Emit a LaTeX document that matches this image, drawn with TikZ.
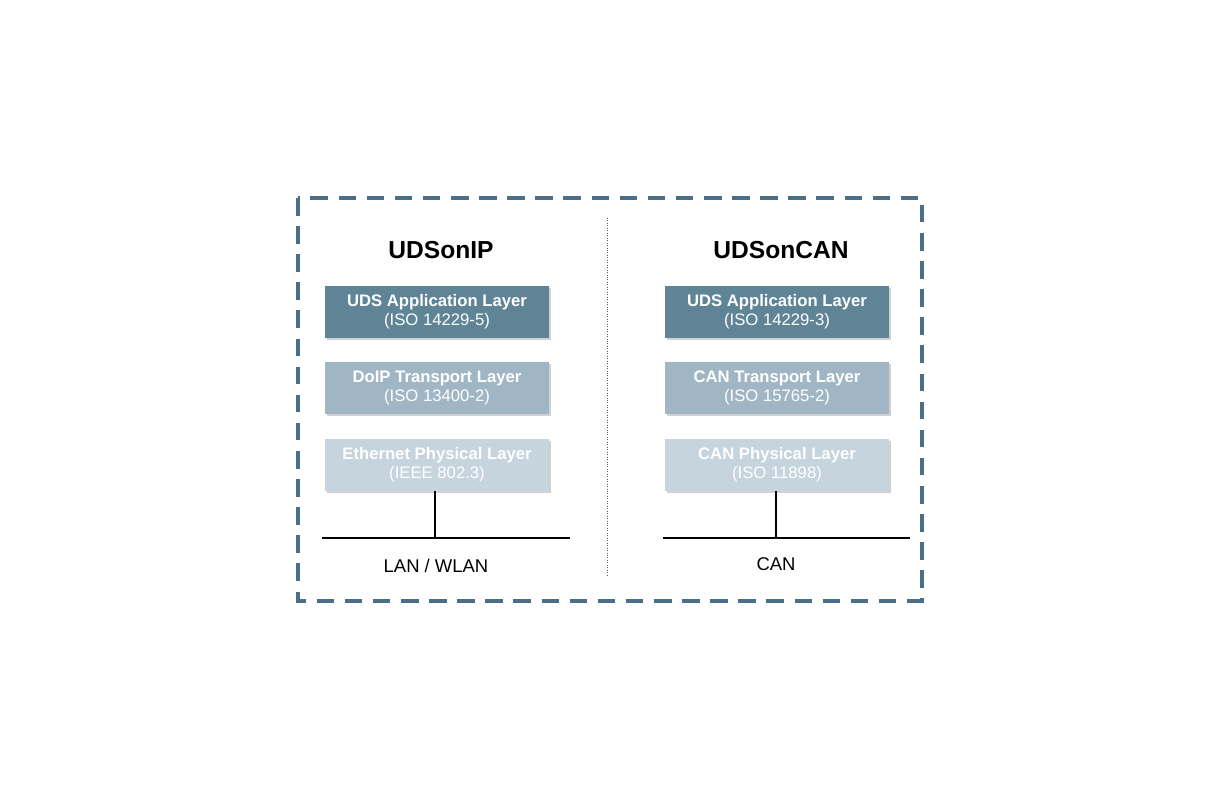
\documentclass[tikz,border=0pt]{standalone}
\usepackage{fontspec}
\setmainfont{Liberation Sans}
\begin{document}
\begin{tikzpicture}[x=0.02cm,y=-0.02cm,
 box/.style={draw=none,minimum width=4.48cm,minimum height=1.04cm,text=white,font=\fontsize{9.5}{11}\selectfont\bfseries,align=center,inner sep=0pt, preaction={fill=black!18,transform canvas={shift={(1.2pt,-1.2pt)}}}},
 l1/.style={box,fill=c1},l2/.style={box,fill=c2},l3/.style={box,fill=c3},
 title/.style={font=\fontsize{14}{16}\selectfont\bfseries},
 lab/.style={font=\fontsize{10.5}{12}\selectfont},
 bus/.style={line width=1.2pt}]
\definecolor{c1}{HTML}{5F8496}\definecolor{c2}{HTML}{A1B6C4}\definecolor{c3}{HTML}{C6D4DD}
\definecolor{fr}{HTML}{4A6F87}
\useasboundingbox (0,0) rectangle (1218,800);
\draw[fr,line width=2.2pt,dash pattern=on 10pt off 6pt] (298,198) rectangle (922,601);
\draw[densely dotted,gray!70!black] (607,218) -- (607,575);
\node[title] (t1) at (441,250) {UDSonIP};
\node[title] (t2) at (781,250) {UDSonCAN};
\node[l1] (a1) at (437,312) {UDS Application Layer\\\mdseries(ISO 14229-5)};
\node[l2] (b1) at (437,388) {DoIP Transport Layer\\\mdseries(ISO 13400-2)};
\node[l3] (c1n) at (437,465) {Ethernet Physical Layer\\\mdseries(IEEE 802.3)};
\node[l1] (a2) at (777,312) {UDS Application Layer\\\mdseries(ISO 14229-3)};
\node[l2] (b2) at (777,388) {CAN Transport Layer\\\mdseries(ISO 15765-2)};
\node[l3] (c2n) at (777,465) {CAN Physical Layer\\\mdseries(ISO 11898)};
\coordinate (p1l) at (322,538);\coordinate (p1r) at (570,538);
\coordinate (p2l) at (663,538);\coordinate (p2r) at (910,538);
\draw[bus] (p1l) -- (p1r);\draw[bus] (p2l) -- (p2r);
\draw[bus] (c1n.south -| 435,0) -- (435,538);
\draw[bus] (c2n.south -| 776,0) -- (776,538);
\node[lab] (n1) at (436,566) {LAN / WLAN};
\node[lab] (n2) at (776,564) {CAN};
\end{tikzpicture}
\end{document}
